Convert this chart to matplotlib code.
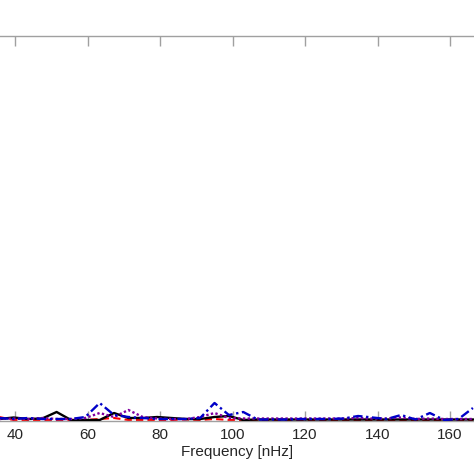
import numpy as np
import matplotlib
matplotlib.use("Agg")
import matplotlib.pyplot as plt

plt.rcParams['font.family'] = ['Liberation Sans', 'DejaVu Sans']

# frequency bins (nHz): k / T with T ~ 8 yr
bin_width = 3.96
bins = np.arange(8, 43)
freq = bins * bin_width

black_solid = [2, 2, 3.5, 2, 2.5, 9, 1, 1, 1, 8, 3, 3, 4, 3, 2, 2, 4, 5, 1,
               1.5, 1.5, 1.5, 1.5, 1.5, 1.5, 1.5, 1.5, 1.5, 1.5, 1.5, 1.5, 1.5, 1.5, 1.5, 1.5]
blue_dashdot = [3, 3, 2, 3, 2, 2, 2, 4, 18, 6, 4, 3, 2, 2, 2, 3, 18, 6, 9,
                1.5, 1.5, 1.5, 2, 2, 2, 2.5, 5, 3.5, 2, 6, 1.5, 8, 1, 2, 13]
purple_dotted = [2, 2, 2.5, 2, 3, 2, 2, 3, 8, 4, 11, 4, 2.5, 2, 2, 4, 8, 3, 2.5,
                 2.5, 2.5, 2.5, 2.5, 2.5, 2.5, 2.5, 3, 2.5, 2.5, 3.5, 2, 2.5, 2, 2, 2]
red_dashed = [6, 4, 1, 1, 1, 1, 1, 1, 2, 3, 1, 1, 1, 1, 1.5, 1, 2, 1, 1,
              1, 1, 1, 1, 1, 1, 1, 1, 1, 1, 1, 1, 1, 1, 1, 1]

xticks = [40, 60, 80, 100, 120, 140, 160]

fig = plt.figure(figsize=(4.74, 4.74), dpi=100)
ax = fig.add_axes([0.0, 1 - 421 / 474, 1.0, (421 - 36) / 474])

ax.plot(freq, red_dashed, color='#ff0000', lw=1.5, ls=(0, (3.5, 2)), zorder=2)
ax.plot(freq, black_solid, color='black', lw=1.7, ls='-', zorder=3)
ax.plot(freq, purple_dotted, color='#8000a0', lw=1.7, ls=(0, (1, 1)), zorder=4)
ax.plot(freq, blue_dashdot, color='#0000c8', lw=1.7, ls=(0, (4, 1.5, 1, 1.5)), zorder=5)

ax.set_xlim(35.86, 166.62)
ax.set_ylim(0, 385)

for s in ['left', 'right']:
    ax.spines[s].set_visible(False)
for s in ['top', 'bottom']:
    ax.spines[s].set_color('#a0a0a0')
    ax.spines[s].set_linewidth(1.0)

ax.set_xticks(xticks)
ax.set_xticklabels([str(t) for t in xticks])
ax.set_yticks([])
ax.tick_params(axis='x', direction='in', length=7, width=1.0, color='#a0a0a0',
               top=True, bottom=True, labelsize=11, labelcolor='#262626', pad=5)
ax.set_xlabel('Frequency [nHz]', fontsize=11, color='#262626', labelpad=2)

fig.savefig('out.png', dpi=100)
